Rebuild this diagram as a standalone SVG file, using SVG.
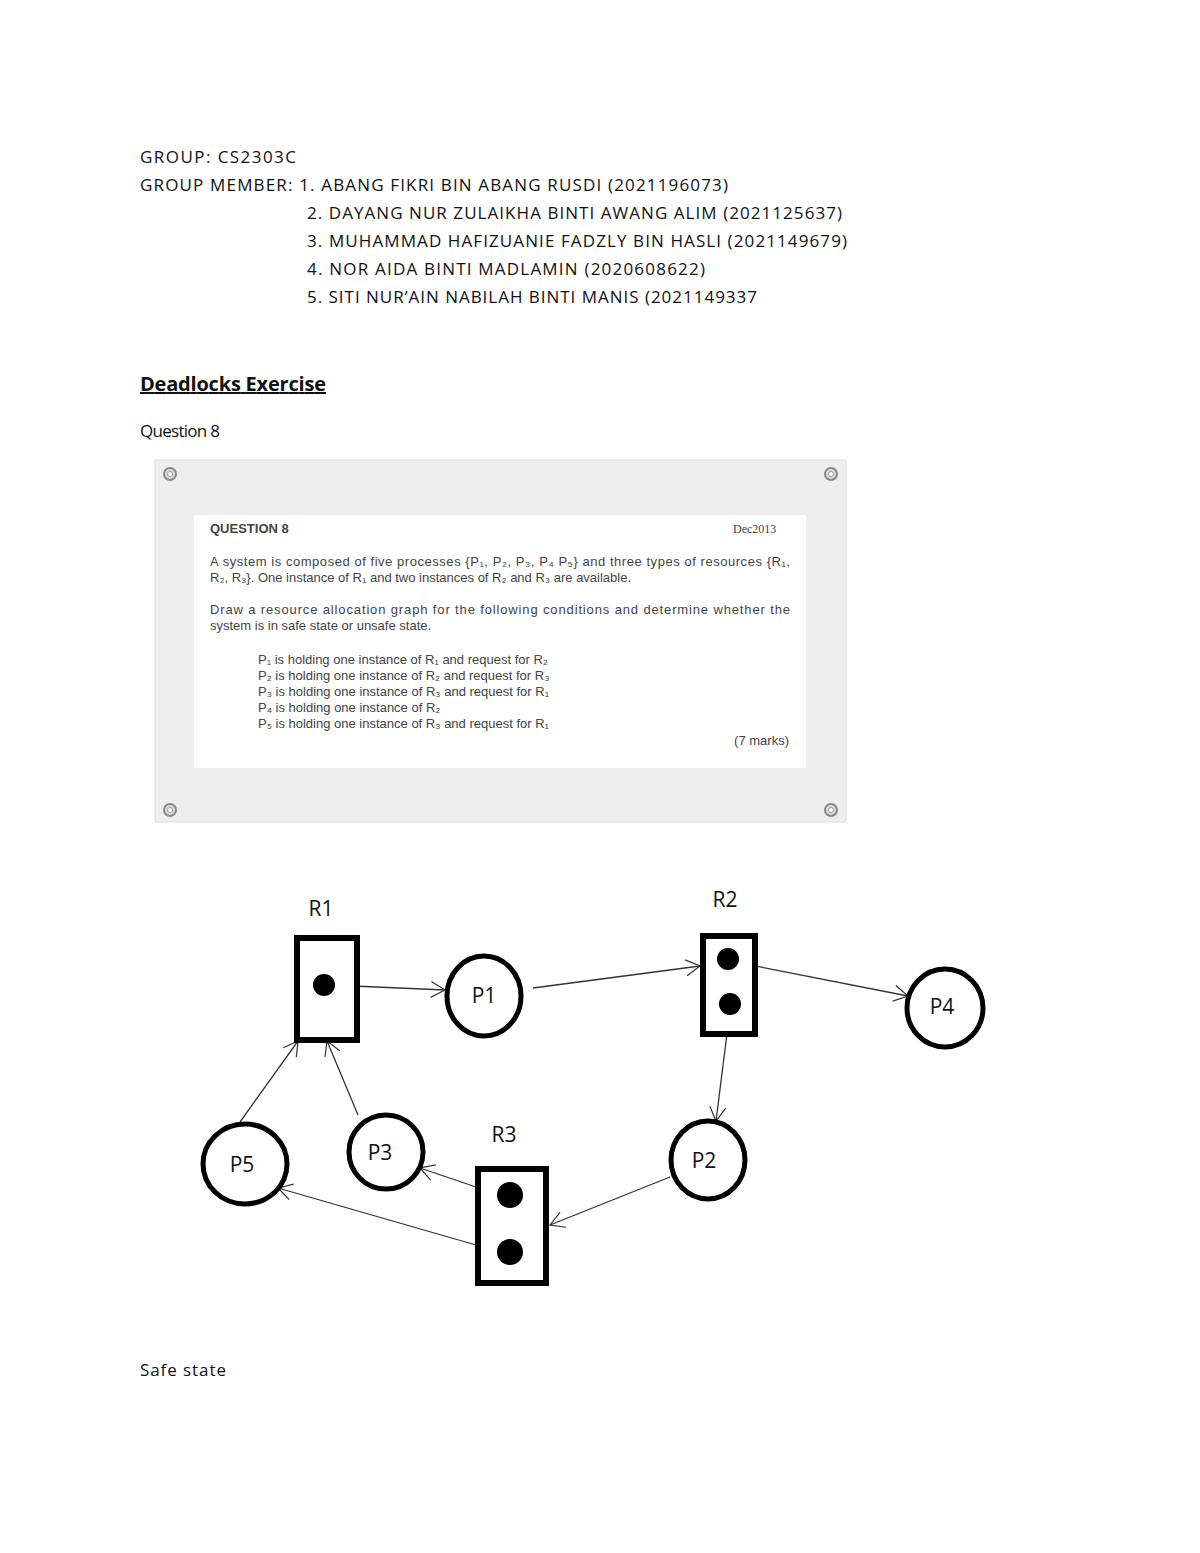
<svg xmlns="http://www.w3.org/2000/svg" width="1200" height="1553" viewBox="0 0 1200 1553">
<style>
.t{font-family:"Open Sans","Liberation Sans",sans-serif;font-size:17px;fill:#111}
.q{font-family:"Liberation Sans",Arial,sans-serif;font-size:13px;fill:#444}
.n{font-family:"Open Sans","Liberation Sans",sans-serif;font-size:21px;fill:#111}
.box{fill:#fff;stroke:#000;stroke-width:6}
.proc{fill:#fff;stroke:#000;stroke-width:5}
.e{stroke:#333;stroke-width:1.3;fill:none;marker-end:url(#a)}
</style>
<defs>
<marker id="a" markerWidth="20" markerHeight="20" refX="18" refY="10" orient="auto" markerUnits="userSpaceOnUse">
<polyline points="4,2 18,10 4,18" fill="none" stroke="#333" stroke-width="1.2"/>
</marker>
<g id="screw"><circle r="6" fill="#ddd" stroke="#888" stroke-width="2"/><circle r="2.5" fill="#fff" stroke="#999"/></g>
</defs>
<rect width="1200" height="1553" fill="#fff"/>
<g id="header">
<text class="t" x="140" y="163" textLength="156">GROUP: CS2303C</text>
<text class="t" x="140" y="191" textLength="588">GROUP MEMBER: 1. ABANG FIKRI BIN ABANG RUSDI (2021196073)</text>
<text class="t" x="307" y="219" textLength="535">2. DAYANG NUR ZULAIKHA BINTI AWANG ALIM (2021125637)</text>
<text class="t" x="307" y="247" textLength="540">3. MUHAMMAD HAFIZUANIE FADZLY BIN HASLI (2021149679)</text>
<text class="t" x="307" y="275" textLength="398">4. NOR AIDA BINTI MADLAMIN (2020608622)</text>
<text class="t" x="307" y="303" textLength="450">5. SITI NUR’AIN NABILAH BINTI MANIS (2021149337</text>
<text x="140" y="391" font-family="'Open Sans','Liberation Sans',sans-serif" font-size="20" font-weight="bold" text-decoration="underline" fill="#111" textLength="186">Deadlocks Exercise</text>
<text class="t" x="140" y="437" textLength="80">Question 8</text>
<text class="t" x="140" y="1376" textLength="86">Safe state</text>
</g>
<g id="question">
<rect x="155" y="460" width="691" height="362" fill="#eeeeee" stroke="#ddd"/>
<rect x="194" y="515" width="612" height="253" fill="#fff"/>
<use href="#screw" x="170" y="474"/><use href="#screw" x="831" y="474"/>
<use href="#screw" x="170" y="810"/><use href="#screw" x="831" y="810"/>
<text class="q" x="210" y="533" font-weight="bold" fill="#333">QUESTION 8</text>
<text x="733" y="533" font-family="'Liberation Serif',serif" font-size="12" fill="#444">Dec2013</text>
<text class="q" x="210" y="566" textLength="580">A system is composed of five processes {P₁, P₂, P₃, P₄ P₅} and three types of resources {R₁,</text>
<text class="q" x="210" y="582">R₂, R₃}. One instance of R₁ and two instances of R₂ and R₃ are available.</text>
<text class="q" x="210" y="614" textLength="580">Draw a resource allocation graph for the following conditions and determine whether the</text>
<text class="q" x="210" y="630">system is in safe state or unsafe state.</text>
<text class="q" x="258" y="664">P₁ is holding one instance of R₁ and request for R₂</text>
<text class="q" x="258" y="680">P₂ is holding one instance of R₂ and request for R₃</text>
<text class="q" x="258" y="696">P₃ is holding one instance of R₃ and request for R₁</text>
<text class="q" x="258" y="712">P₄ is holding one instance of R₂</text>
<text class="q" x="258" y="728">P₅ is holding one instance of R₃ and request for R₁</text>
<text class="q" x="789" y="745" text-anchor="end">(7 marks)</text>
</g>
<g id="edges">
<line class="e" x1="330" y1="985" x2="445" y2="990"/>
<line class="e" x1="533" y1="988" x2="700" y2="966"/>
<line class="e" x1="735" y1="962" x2="908" y2="996"/>
<line class="e" x1="730" y1="1010" x2="716" y2="1121"/>
<line class="e" x1="670" y1="1177" x2="550" y2="1225"/>
<line class="e" x1="476" y1="1187" x2="420" y2="1168"/>
<line class="e" x1="476" y1="1245" x2="278" y2="1188"/>
<line class="e" x1="240" y1="1122" x2="298" y2="1041"/>
<line class="e" x1="358" y1="1115" x2="327" y2="1041"/>
</g>
<g id="R1"><rect class="box" x="297" y="938" width="60" height="102"/><circle cx="324" cy="985" r="11"/><text class="n" x="321" y="916" text-anchor="middle">R1</text></g>
<g id="R2"><rect class="box" x="703" y="936" width="52" height="98"/><circle cx="728" cy="959" r="11"/><circle cx="730" cy="1004" r="11"/><text class="n" x="725" y="907" text-anchor="middle">R2</text></g>
<g id="R3"><rect class="box" x="478" y="1169" width="68" height="114"/><circle cx="510" cy="1195" r="13"/><circle cx="510" cy="1252" r="13"/><text class="n" x="504" y="1142" text-anchor="middle">R3</text></g>
<g id="P1"><ellipse class="proc" cx="484" cy="996" rx="37" ry="40"/><text class="n" x="484" y="1003" text-anchor="middle">P1</text></g>
<g id="P2"><ellipse class="proc" cx="708" cy="1160" rx="37" ry="39"/><text class="n" x="704" y="1168" text-anchor="middle">P2</text></g>
<g id="P3"><ellipse class="proc" cx="386" cy="1152" rx="37" ry="37"/><text class="n" x="380" y="1160" text-anchor="middle">P3</text></g>
<g id="P4"><ellipse class="proc" cx="945" cy="1008" rx="38" ry="39"/><text class="n" x="942" y="1014" text-anchor="middle">P4</text></g>
<g id="P5"><ellipse class="proc" cx="245" cy="1164" rx="42" ry="40"/><text class="n" x="242" y="1172" text-anchor="middle">P5</text></g>
</svg>
